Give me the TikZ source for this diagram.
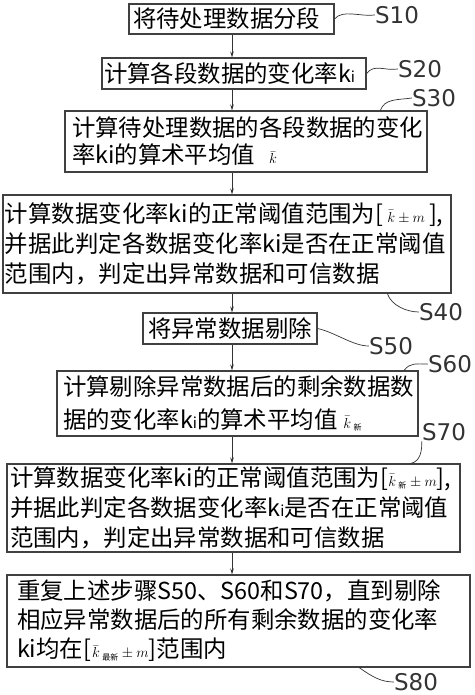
\documentclass[tikz,border=0pt]{standalone}
\usepackage{fontspec}
\setmainfont{Noto Sans CJK SC}
\newfontfamily\labelfont{DejaVu Sans}
\usetikzlibrary{arrows.meta,calc}

\newcommand{\kisub}{k{\fontsize{15}{15}\selectfont i}}
\newcommand{\kbar}[1]{{\fontsize{15}{15}\selectfont$\bar{k}#1$}}
\newcommand{\kbarsub}[2]{{\fontsize{15}{15}\selectfont${\bar{k}\,}_{\xin{#1}}#2$}}
\newcommand{\xin}[1]{\mbox{\fontsize{8}{8}\selectfont #1}}

\tikzset{
  stepbox/.style={draw=black!75, line width=1.1pt, align=left, inner ysep=0pt,
    font=\fontsize{23.4}{30}\selectfont},
  steplabel/.style={inner sep=0pt, font=\labelfont\fontsize{23}{23}\selectfont, text=black!80},
  lead/.style={line width=0.7pt, black!80},
  arr/.style={line width=0.8pt, black!80, -{Stealth[length=6pt,width=3.5pt]}}
}

\begin{document}
\begin{tikzpicture}[x=1pt,y=-1pt]
    \useasboundingbox (0,0) rectangle (474,695);

    % steps
    \node[stepbox, text width=197pt, inner xsep=4pt, minimum height=30pt] (b10) at (231.5,19) {将待处理数据分段};
    \node[stepbox, text width=260pt, inner xsep=2pt, minimum height=31pt] (b20) at (234,73.5) {计算各段数据的变化率\kisub};
    \node[stepbox, text width=348pt, inner xsep=7pt, minimum height=61pt,
      font=\fontsize{23.4}{27}\selectfont] (b30) at (246,141.5)
      {计算待处理数据的各段数据的变化\\率ki的算术平均值\hspace{14pt}\kbar{}};
    \node[stepbox, text width=444pt, inner xsep=2pt, minimum height=98pt] (b40) at (227,244)
      {计算数据变化率ki的正常阈值范围为\mbox{[\hspace{4pt}\kbar{\pm m}\hspace{4pt}],}\\
       并据此判定各数据变化率ki是否在正常阈值\\
       范围内，判定出异常数据和可信数据};
    \node[stepbox, text width=164pt, inner xsep=5pt, minimum height=31pt] (b50) at (230,328.5) {将异常数据剔除};
    \node[stepbox, text width=349pt, inner xsep=6pt, minimum height=65pt,
      font=\fontsize{23.4}{33}\selectfont] (b60) at (237.5,403.5)
      {计算剔除异常数据后的剩余数据数\\据的变化率\kisub 的算术平均值\hspace{6pt}\kbarsub{新}{}};
    \node[stepbox, text width=447pt, inner xsep=3pt, minimum height=88pt] (b70) at (233.5,508)
      {计算数据变化率ki的正常阈值范围为\mbox{[\kbarsub{新}{\pm m}],}\\
       并据此判定各数据变化率\kisub 是否在正常阈值\\
       范围内，判定出异常数据和可信数据};
    \node[stepbox, text width=443pt, inner xsep=10pt, minimum height=92pt,
      font=\fontsize{23.4}{29}\selectfont] (b80) at (238.5,621)
      {重复上述步骤S50、S60和S70，直到剔除\\
       相应异常数据后的所有剩余数据的变化率\\
       ki均在\mbox{[\hspace{1pt}\kbarsub{最新}{\pm m}]}范围内};

    % flow
    \coordinate (axis) at (232,0);
    \draw[arr] (b10.south -| axis) -- (b20.north -| axis);
    \draw[arr] (b20.south -| axis) -- (b30.north -| axis);
    \draw[arr] (b30.south -| axis) -- (b40.north -| axis);
    \draw[arr] (b40.south -| axis) -- (b50.north -| axis);
    \draw[arr] (b50.south -| axis) -- (b60.north -| axis);
    \draw[arr] (b60.south -| axis) -- (b70.north -| axis);
    \draw[arr] (b70.south -| axis) -- (b80.north -| axis);

    % reference signs
    \node[steplabel] (l10) at (397,15) {S10};
    \node[steplabel] (l20) at (420,69) {S20};
    \node[steplabel] (l30) at (434,98) {S30};
    \node[steplabel] (l40) at (441,312) {S40};
    \node[steplabel] (l50) at (391,346) {S50};
    \node[steplabel] (l60) at (450,364) {S60};
    \node[steplabel] (l70) at (444,432) {S70};
    \node[steplabel] (l80) at (416,682) {S80};

    \draw[lead] (b10.east) .. controls +(8,-10) and +(-14,2) .. (l10.west);
    \draw[lead] (b20.east) .. controls +(8,-10) and +(-14,2) .. (l20.west);
    \draw[lead] ($(b30.north west)!0.87!(b30.north east)$) .. controls +(4,-12) and +(-14,2) .. (l30.west);
    \draw[lead] ($(b40.south west)!0.857!(b40.south east)$) .. controls +(4,12) and +(-12,0) .. (l40.west);
    \draw[lead] (b50.east) .. controls +(18,4) and +(-16,0) .. (l50.west);
    \draw[lead] ($(b60.north west)!0.96!(b60.north east)$) .. controls +(6,-8) and +(-12,0) .. (l60.west);
    \draw[lead] ($(b70.north west)!0.89!(b70.north east)$) .. controls +(10,-2) and +(0,10) .. (l70.south west);
    \draw[lead] ($(b80.south west)!0.76!(b80.south east)$) .. controls +(14,10) and +(-12,0) .. (l80.west);
\end{tikzpicture}
\end{document}
